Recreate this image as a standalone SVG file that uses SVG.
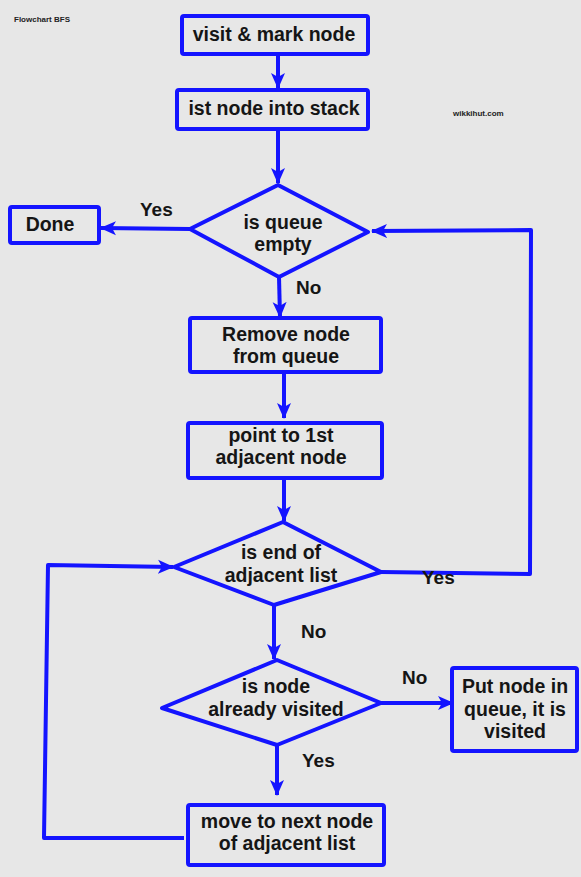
<svg xmlns="http://www.w3.org/2000/svg" width="581" height="877" viewBox="0 0 581 877">
<defs>
<style>
.bg{fill:#e7e7e7}
.box{fill:none;stroke:#1414ff;stroke-width:4;stroke-linejoin:round}
.ln{fill:none;stroke:#1414ff;stroke-width:4;stroke-linejoin:round}
.t{font-family:"Liberation Sans",Arial,sans-serif;font-weight:bold;font-size:19.5px;fill:#151515;text-anchor:middle}
.lbl{font-family:"Liberation Sans",Arial,sans-serif;font-weight:bold;font-size:19px;fill:#151515}
.small{font-family:"Liberation Sans",Arial,sans-serif;font-weight:bold;font-size:8px;fill:#222}
</style>
<marker id="ah" markerUnits="userSpaceOnUse" markerWidth="16" markerHeight="16" refX="15" refY="8" orient="auto">
<path d="M0,1 L16,8 L0,15 L4,8 z" fill="#1414ff"/>
</marker>
</defs>
<rect class="bg" x="0" y="0" width="581" height="877"/>
<text class="small" x="14" y="22">Flowchart BFS</text>
<text class="small" x="453" y="116">wikkihut.com</text>

<g id="connectors">
<path class="ln" d="M278,54 L278,88" marker-end="url(#ah)"/>
<path class="ln" d="M278,129 L278,183" marker-end="url(#ah)"/>
<path class="ln" d="M190,229 L101,228" marker-end="url(#ah)"/>
<path class="ln" d="M279,277 L280,317" marker-end="url(#ah)"/>
<path class="ln" d="M284,372 L284,418" marker-end="url(#ah)"/>
<path class="ln" d="M284,478 L284,521" marker-end="url(#ah)"/>
<path class="ln" d="M381,572 L530,574 L531,230 L372,231" marker-end="url(#ah)"/>
<path class="ln" d="M274,605 L274,659" marker-end="url(#ah)"/>
<path class="ln" d="M381,703 L453,703" marker-end="url(#ah)"/>
<path class="ln" d="M277,745 L277,795" marker-end="url(#ah)"/>
<path class="ln" d="M184,838 L44,838 L48,565 L173,567" marker-end="url(#ah)"/>
<text class="lbl" x="140" y="216">Yes</text>
<text class="lbl" x="296" y="294">No</text>
<text class="lbl" x="422" y="584">Yes</text>
<text class="lbl" x="301" y="638">No</text>
<text class="lbl" x="402" y="684">No</text>
<text class="lbl" x="302" y="767">Yes</text>
</g>

<g id="n1">
<rect class="box" x="182" y="16" width="186" height="38" rx="2"/>
<text class="t" x="274" y="41">visit &amp; mark node</text>
</g>
<g id="n2">
<rect class="box" x="177" y="90" width="191" height="39" rx="2"/>
<text class="t" x="274" y="115">ist node into stack</text>
</g>
<g id="d1">
<polygon class="box" points="278,185 368,232 279,277 190,229"/>
<text class="t" x="283" y="229">is queue</text>
<text class="t" x="283" y="251">empty</text>
</g>
<g id="done">
<rect class="box" x="10" y="207" width="89" height="36" rx="2"/>
<text class="t" x="50" y="231">Done</text>
</g>
<g id="n3">
<rect class="box" x="190" y="318" width="191" height="54" rx="2"/>
<text class="t" x="286" y="341">Remove node</text>
<text class="t" x="286" y="363">from queue</text>
</g>
<g id="n4">
<rect class="box" x="188" y="423" width="194" height="55" rx="2"/>
<text class="t" x="281" y="442">point to 1st</text>
<text class="t" x="281" y="464">adjacent node</text>
</g>
<g id="d2">
<polygon class="box" points="283,522 381,572 274,605 174,567"/>
<text class="t" x="281" y="559">is end of</text>
<text class="t" x="281" y="582">adjacent list</text>
</g>
<g id="d3">
<polygon class="box" points="277,660 381,703 277,745 162,708"/>
<text class="t" x="276" y="693">is node</text>
<text class="t" x="276" y="716">already visited</text>
</g>
<g id="n5">
<rect class="box" x="452" y="668" width="125" height="83" rx="2"/>
<text class="t" x="515" y="693">Put node in</text>
<text class="t" x="515" y="716">queue, it is</text>
<text class="t" x="515" y="738">visited</text>
</g>
<g id="n6">
<rect class="box" x="188" y="805" width="196" height="60" rx="2"/>
<text class="t" x="287" y="828">move to next node</text>
<text class="t" x="287" y="850">of adjacent list</text>
</g>
</svg>
